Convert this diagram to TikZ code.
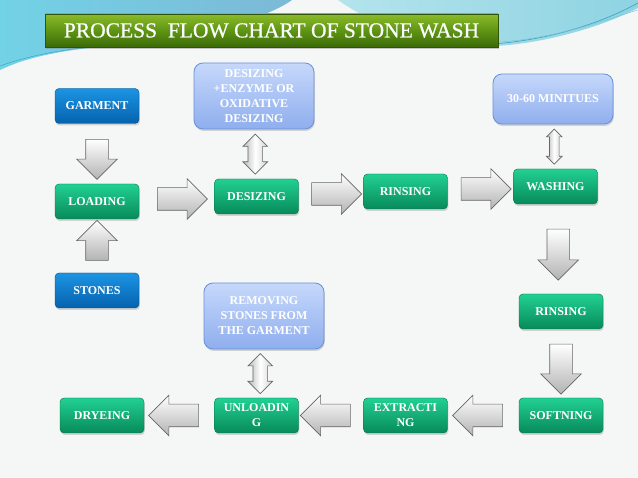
\documentclass[tikz,border=0pt]{standalone}
\usepackage{fontspec}
\setmainfont{Liberation Serif}
\newfontfamily\titlefont{Liberation Serif}[FakeBold=0.6]
\usetikzlibrary{shapes.arrows,shadows,calc}
\definecolor{bgc}{HTML}{F5F6F6}
\definecolor{skyL}{HTML}{72D2E6}
\definecolor{skyR}{HTML}{7DB9D6}
\definecolor{tealL}{HTML}{B4E4EC}
\definecolor{tealR}{HTML}{8ED3E2}
\definecolor{tealD}{HTML}{3FA6C6}
\definecolor{ttop}{HTML}{8CBB2A}
\definecolor{tmid}{HTML}{5E9514}
\definecolor{tbot}{HTML}{3C6A08}
\definecolor{gtop}{HTML}{22D092}
\definecolor{gbot}{HTML}{078A5A}
\definecolor{gedge}{HTML}{06704A}
\definecolor{btop}{HTML}{1C94E2}
\definecolor{bbot}{HTML}{0562AE}
\definecolor{bedge}{HTML}{054F8C}
\definecolor{ltop}{HTML}{C6D8FB}
\definecolor{lbot}{HTML}{8FAEEE}
\definecolor{ledge}{HTML}{6A90D8}
\definecolor{arredge}{HTML}{666666}

\begin{document}
\begin{tikzpicture}[x=1pt, y=-1pt,
  stepbox/.style={rounded corners=4pt, minimum width=84pt, minimum height=35pt,
    inner sep=1pt, align=center, text=white,
    font=\bfseries\fontsize{12}{15}\selectfont,
    drop shadow={opacity=0.3, shadow xshift=0.8pt, shadow yshift=-2pt}},
  greenbox/.style={stepbox, top color=gtop, bottom color=gbot, draw=gedge, line width=0.4pt},
  bluebox/.style={stepbox, top color=btop, bottom color=bbot, draw=bedge, line width=0.4pt},
  notebox/.style={stepbox, rounded corners=9pt, minimum width=120pt, minimum height=66pt,
    top color=ltop, bottom color=lbot, draw=ledge, line width=0.8pt},
  titlebar/.style={minimum width=453pt, minimum height=33pt, inner sep=0pt,
    top color=ttop, bottom color=tbot, middle color=tmid, draw=tbot!80!black,
    line width=0.3pt, text=white, font=\titlefont\fontsize{21.5}{24}\selectfont,
    drop shadow={opacity=0.4, shadow xshift=1pt, shadow yshift=-2.5pt}},
  fatarrow/.style={single arrow, draw=arredge, line width=0.6pt,
    inner xsep=0pt, inner ysep=11pt, minimum height=50pt,
    single arrow head extend=9pt,
    top color=white, bottom color=gray!60},
  twoway/.style={double arrow, draw=arredge, line width=0.6pt,
    inner xsep=0pt, inner ysep=7pt, minimum height=40pt,
    double arrow head extend=5pt,
    left color=gray!55, right color=gray!35, middle color=white}
]
\useasboundingbox (0,0) rectangle (638,478);
% =================== background ===================
\fill[bgc] (0,0) rectangle (638,478);
\shade[left color=skyL, right color=skyR] (0,0) -- (292,0)
  .. controls (262,22) and (180,40) .. (110,46)
  .. controls (60,50) and (25,58) .. (0,70) -- cycle;
\shade[left color=tealL, right color=tealR] (338,0) -- (638,0) -- (638,8)
  .. controls (600,28) and (540,44) .. (495,46)
  .. controls (440,46) and (380,30) .. (338,0) -- cycle;
\draw[tealD, line width=0.7pt] (470,45) .. controls (540,44) and (600,24) .. (638,3);
\draw[tealD!70, line width=0.4pt] (500,42) .. controls (560,38) and (610,18) .. (638,10);
\draw[tealD, line width=0.5pt] (0,66) .. controls (30,55) and (70,48) .. (112,45);
% =================== title ===================
\node[titlebar] (title) at (271.5,30.5) {PROCESS\ \ FLOW CHART OF STONE WASH};
% =================== steps ===================
\node[bluebox] (garment) at (97,106) {GARMENT};
\node[greenbox] (loading) at (97,201.5) {LOADING};
\node[bluebox] (stones) at (97,290.5) {STONES};
\node[greenbox] (desz) at (256.5,196.5) {DESIZING};
\node[notebox] (enzyme) at (254,96) {DESIZING\\+ENZYME OR\\OXIDATIVE\\DESIZING};
\node[greenbox] (rinse1) at (405.5,191.5) {RINSING};
\node[greenbox] (wash) at (555.5,186.5) {WASHING};
\node[notebox, minimum height=50pt] (mins) at (553,99) {30-60 MINITUES};
\node[greenbox] (rinse2) at (561,311.5) {RINSING};
\node[greenbox] (soft) at (561,415.5) {SOFTNING};
\node[greenbox] (extract) at (405.5,415.5) {EXTRACTI\\NG};
\node[greenbox] (unload) at (256.5,415.5) {UNLOADIN\\G};
\node[notebox] (remove) at (264,316) {REMOVING\\STONES FROM\\THE GARMENT};
\node[greenbox] (dry) at (102,415.5) {DRYEING};
% =================== block arrows ===================
\node[fatarrow, rotate=-90, minimum height=40pt] (g2l) at ($(garment.south)!0.5!(loading.north)$) {};
\node[fatarrow, rotate=90, minimum height=40pt] (s2l) at ($(stones.north)!0.5!(loading.south)$) {};
\node[fatarrow] (l2d) at ($(loading.east)!0.5!(desz.west)$) {};
\node[fatarrow] (d2r) at ($(desz.east)!0.5!(rinse1.west)$) {};
\node[fatarrow] (r2w) at ($(rinse1.east)!0.5!(wash.west)$) {};
\node[fatarrow, rotate=-90, minimum height=51pt] (w2r) at ($(wash.south)!0.5!(rinse2.north)$) {};
\node[fatarrow, rotate=-90] (r2s) at ($(rinse2.south)!0.5!(soft.north)$) {};
\node[fatarrow, rotate=180] (s2e) at ($(soft.west)!0.5!(extract.east)$) {};
\node[fatarrow, rotate=180] (e2u) at ($(extract.west)!0.5!(unload.east)$) {};
\node[fatarrow, rotate=180] (u2d) at ($(unload.west)!0.5!(dry.east)$) {};
% two-way arrows to the notes
\node[twoway, rotate=90] (d2e) at ($(enzyme.south)!0.5!(desz.north)$) {};
\node[twoway, rotate=90, inner ysep=4.5pt, minimum height=35pt,
  double arrow head extend=3pt] (w2m) at ($(mins.south)!0.5!(wash.north)$) {};
\node[twoway, rotate=90] (u2r) at ($(remove.south)!0.5!(unload.north)$) {};
\end{tikzpicture}
\end{document}
